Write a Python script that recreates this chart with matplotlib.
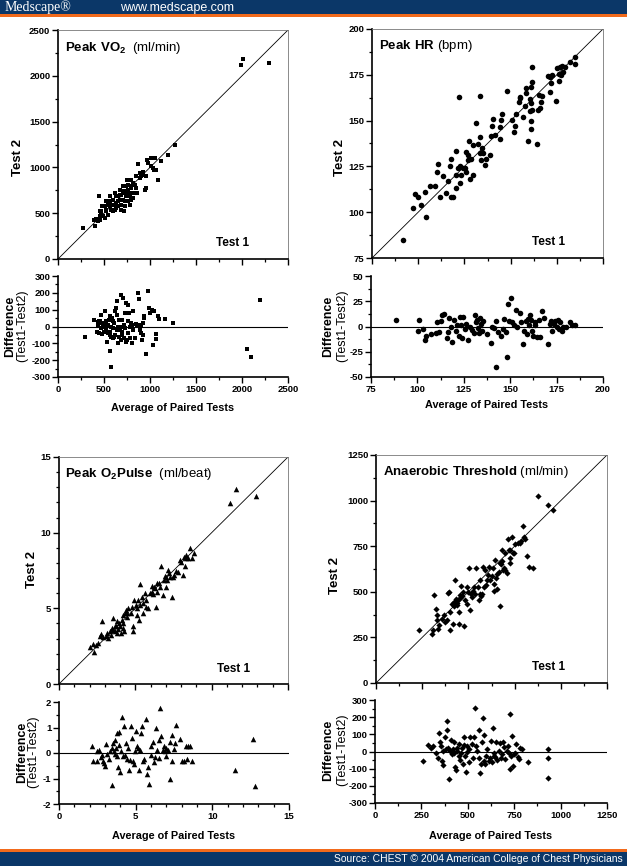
import matplotlib
matplotlib.use("Agg")
import matplotlib.pyplot as plt
from matplotlib.patches import Rectangle
from matplotlib.ticker import MultipleLocator, NullFormatter

plt.rcParams['font.family'] = ['Liberation Sans', 'DejaVu Sans']
plt.rcParams['axes.unicode_minus'] = False
plt.rcParams['mathtext.fontset'] = 'custom'
plt.rcParams['mathtext.rm'] = 'Liberation Sans'
plt.rcParams['mathtext.bf'] = 'Liberation Sans:bold'

W, H = 627, 866
NAVY = '#0b3768'
ORANGE = '#f26a1b'

# ---- Peak VO2 (ml/min) ----
vo2_t1 = [272, 399, 391, 417, 446, 453, 471, 489, 453, 507, 525, 543, 562, 580, 598, 616, 634, 652,
          670, 688, 707, 725, 743, 761, 779, 797, 815, 833, 851, 750, 797, 870, 888, 906, 924, 960,
          960, 967, 1014, 1051, 1033, 1069, 1087, 1123, 1196, 1268, 1993, 2011, 2293,
          561, 616, 652, 688, 724, 742, 796, 760, 778, 706, 670, 634, 597, 543, 507, 453, 435, 471,
          525, 579, 652, 706, 760, 815, 851, 887, 923, 724, 815, 858, 951, 980, 1014, 1040, 634,
          688, 616, 561, 518, 482, 760, 796, 670, 742, 789, 717]
vo2_t2 = [338, 363, 429, 436, 683, 429, 483, 465, 520, 574, 520, 592, 629, 538, 647, 592, 683, 629,
          647, 701, 738, 720, 792, 756, 683, 792, 720, 810, 774, 865, 858, 1036, 938, 901, 919, 901,
          774, 1083, 1101, 1101, 992, 974, 865, 1065, 1138, 1246, 2118, 2180, 2137,
          574, 538, 574, 592, 629, 683, 720, 629, 592, 647, 701, 610, 520, 483, 447, 465, 410, 520,
          538, 592, 683, 792, 810, 828, 901, 883, 955, 574, 665, 720, 756, 1047, 1010, 974, 556,
          538, 720, 683, 629, 574, 720, 774, 756, 738, 647, 520]
vo2_avg = [290, 390, 420, 430, 440, 450, 460, 470, 480, 490, 500, 510, 520, 530, 540, 550, 560, 570,
           575, 580, 590, 600, 610, 620, 630, 640, 650, 660, 670, 680, 690, 700, 710, 720, 730, 740,
           750, 760, 770, 780, 790, 800, 820, 840, 850, 870, 880, 890, 900, 910, 920, 930, 940, 960,
           980, 990, 1000, 1020, 1030, 1040, 1060, 1070, 1090, 1100, 1160, 1250, 2050, 2100, 2200,
           470, 500, 520, 540, 560, 600, 620, 640, 660, 680, 700, 720, 740, 760, 780, 820, 860, 900,
           920, 450, 480, 530, 580, 610, 650, 690, 730, 760, 800, 700, 640, 600, 560]
vo2_diff = [-65, 40, -30, 25, 10, -40, 30, 70, -45, 0, 20, 90, -20, -95, 10, 40, -30, -145,
            -240, -60, 50, -10, -60, 90, 110, 150, -100, 40, -20, 190, 0, -50, 170, -70, 80, 140,
            -80, 130, 80, 0, 20, -100, 90, -70, 15, 200, 165, -20, 10, -80, -50, 60, 50, -165,
            210, 110, 80, 100, -110, 90, -75, -45, 60, 45, 45, 20, -135, -180, 160,
            -10, -30, 30, -40, 60, 30, -50, -20, -60, 0, 40, 10, -90, -40, -70, -20, 10, -40,
            20, 30, 20, 5, 0, 20, 0, -80, -10, 30, 10, -30, 70, -70, -50]

# ---- Peak HR (bpm) ----
hr_t1 = [91.8, 97.2, 98.1, 99.9, 101.7, 103.5, 104.0, 106.2, 108.9, 110.2, 110.7, 112.0, 113.4,
         115.2, 116.1, 117.0, 117.9, 117.9, 118.8, 120.6, 120.6, 120.6, 121.5, 122.1, 122.4, 122.8,
         123.3, 124.2, 125.1, 126.0, 126.0, 126.9, 126.9, 127.5, 127.8, 128.8, 129.7, 129.7, 131.5,
         132.4, 133.3, 133.3, 133.6, 134.2, 134.7, 135.1, 136.0, 136.5, 138.7, 139.6, 140.1, 140.5,
         141.5, 144.1, 144.4, 145.0, 145.5, 148.0, 150.9, 151.6, 152.2, 152.7, 154.5, 154.9, 155.2,
         156.7, 157.6, 158.2, 158.5, 159.4, 160.3, 160.3, 161.2, 161.2, 161.8, 161.8, 161.8, 161.2,
         161.2, 164.3, 164.8, 165.4, 166.1, 166.6, 167.0, 170.2, 171.1, 171.5, 172.0, 172.6, 174.4,
         175.1, 176.2, 176.2, 176.9, 177.5, 178.0, 178.4, 179.3, 182.0, 184.7, 184.7]
hr_t2 = [84.6, 102.3, 110.1, 108.2, 104.1, 110.8, 97.3, 114.4, 114.4, 121.7, 126.4, 108.2, 119.5,
         110.4, 116.8, 125.3, 129.0, 108.1, 108.1, 120.4, 113.2, 133.5, 124.1, 162.8, 125.0, 115.9,
         120.4, 124.1, 124.1, 122.2, 133.1, 131.3, 128.6, 139.1, 118.2, 129.0, 120.4, 136.8, 148.6,
         137.3, 141.3, 132.2, 163.5, 128.6, 135.0, 132.2, 125.9, 129.0, 131.3, 141.7, 147.1, 150.8,
         142.1, 146.4, 139.9, 150.4, 153.7, 166.2, 150.4, 143.7, 147.1, 153.5, 160.4, 162.2, 163.1,
         152.2, 158.0, 165.3, 168.0, 138.6, 161.8, 155.0, 159.5, 168.6, 179.1, 171.3, 155.9, 150.0,
         145.3, 137.3, 155.9, 164.0, 156.8, 160.4, 163.5, 174.4, 174.0, 165.8, 170.7, 174.9, 160.8,
         178.6, 175.5, 171.8, 179.5, 174.9, 180.0, 176.7, 179.5, 182.2, 184.9, 180.9]
hr_avg = [88.4, 100.1, 101.0, 102.8, 104.0, 104.5, 107.2, 109.9, 110.5, 111.7, 112.9, 113.5, 114.4,
          115.8, 116.5, 117.1, 118.0, 118.9, 119.8, 120.7, 121.6, 122.5, 123.0, 123.4, 124.2, 124.8,
          125.5, 126.0, 127.3, 128.4, 129.6, 130.5, 130.9, 131.4, 132.0, 132.7, 133.2, 133.7, 134.1,
          135.0, 135.5, 137.3, 139.5, 140.4, 141.3, 142.2, 142.6, 143.4, 144.8, 146.3, 146.6, 147.5,
          148.4, 148.8, 149.3, 150.2, 151.1, 152.0, 152.9, 153.8, 155.2, 155.6, 157.0, 157.4, 158.3,
          158.8, 159.5, 160.1, 160.6, 161.3, 161.9, 162.4, 163.1, 163.6, 164.2, 165.4, 166.3, 167.2,
          168.1, 170.3, 171.3, 172.1, 172.6, 173.5, 174.4, 175.0, 175.6, 176.2, 177.1, 178.0, 178.5,
          179.8, 182.4, 183.3, 185.1]
hr_diff = [6.9, -4.6, 6.9, -2.3, -12.9, -9.6, -7.3, -6.6, 4.3, -5.0, 5.9, 11.6, 11.9,
           -11.2, -5.6, 8.3, -0.7, -14.9, 6.6, -4.0, 1.7, -9.6, 9.9, 1.0, -11.6, 9.2,
           -2.3, 2.6, -12.9, -0.7, -3.3, -6.6, 10.9, 4.3, 6.9, -1.7, -6.6, 8.6, 2.6,
           -4.6, 5.3, -7.9, -16.5, -0.7, -1.3, 5.9, -40.3, -5.6, -9.9, -2.3, 7.6, -5.6,
           -30.4, 21.8, 5.9, 28.1, 4.3, 1.0, 16.5, -0.7, 13.2, 4.3, -17.8, -4.6, 5.9,
           -7.3, 7.6, 1.0, 10.9, 6.6, -4.0, -9.9, 4.3, 1.0, -10.6, 6.6, -10.6, 14.9,
           8.6, -17.2, 2.6, 5.0, -4.0, 2.0, 5.3, -0.7, 6.6, -2.3, 4.3, -4.0, 0.0,
           -0.7, 4.3, 1.0, 1.7]

# ---- Peak O2 pulse (ml/beat) ----
o2_t1 = [2.03, 2.20, 2.31, 2.42, 2.57, 2.68, 2.73, 2.79, 2.90, 3.07, 3.16, 3.23, 3.34, 3.44, 3.55,
         3.55, 3.66, 3.73, 3.77, 3.82, 3.88, 3.99, 4.03, 4.10, 4.16, 4.21, 4.25, 4.32, 4.38, 4.43,
         4.53, 4.69, 4.82, 4.86, 4.91, 5.04, 5.08, 5.12, 5.19, 5.25, 5.30, 5.41, 5.47, 5.52, 5.62,
         5.73, 5.84, 5.99, 6.06, 6.12, 6.17, 6.28, 6.39, 6.43, 6.34, 6.61, 6.71, 6.82, 6.87, 6.93,
         7.00, 7.04, 7.15, 7.22, 7.30, 7.43, 7.52, 7.65, 7.80, 8.02, 8.13, 8.18, 8.24, 8.31, 8.35,
         8.46, 8.57, 8.68, 8.83, 11.18, 11.62, 12.93,
         3.66, 3.95, 4.47, 4.75, 5.30, 5.73, 6.21, 6.56, 7.09, 7.48, 7.91, 4.16, 3.38]
o2_t2 = [2.44, 2.66, 2.09, 2.59, 2.70, 3.14, 3.32, 4.13, 3.10, 3.14, 3.36, 3.03, 3.47, 3.69, 4.35,
         3.58, 3.47, 3.80, 3.40, 4.13, 3.62, 3.80, 3.40, 4.24, 4.02, 4.57, 3.47, 4.68, 4.90, 4.72,
         5.01, 4.72, 3.80, 3.47, 5.56, 5.23, 5.01, 4.57, 5.56, 4.24, 6.61, 5.78, 5.34, 4.68, 6.00,
         5.12, 5.01, 6.00, 6.48, 6.11, 5.95, 6.33, 6.65, 6.11, 5.12, 6.44, 7.80, 5.89, 6.87, 7.14,
         6.44, 7.05, 7.53, 7.31, 7.09, 5.78, 7.20, 7.47, 7.42, 8.08, 7.20, 8.41, 7.80, 8.52, 8.30,
         8.30, 8.96, 8.30, 8.63, 11.93, 12.87, 12.43,
         3.80, 4.06, 4.46, 5.12, 5.23, 5.56, 6.44, 6.65, 6.87, 7.09, 8.19, 3.69, 3.25]
o2_avg = [2.17, 2.24, 2.45, 2.50, 2.63, 2.71, 2.78, 2.89, 2.95, 3.00, 3.06, 3.15, 3.23, 3.32, 3.43,
          3.47, 3.54, 3.58, 3.62, 3.67, 3.71, 3.76, 3.80, 3.84, 3.89, 3.93, 3.97, 4.02, 4.08, 4.15,
          4.23, 4.30, 4.36, 4.45, 4.51, 4.58, 4.62, 4.71, 4.75, 4.84, 4.88, 4.97, 5.01, 5.10, 5.17,
          5.23, 5.30, 5.36, 5.40, 5.45, 5.53, 5.67, 5.71, 5.80, 5.88, 5.97, 6.03, 6.14, 6.19, 6.27,
          6.32, 6.40, 6.49, 6.53, 6.58, 6.66, 6.75, 6.84, 6.90, 6.95, 7.01, 7.12, 7.23, 7.27, 7.34,
          7.40, 7.49, 7.55, 7.62, 7.88, 7.99, 8.14, 8.27, 8.36, 8.42, 8.57, 8.70, 11.46, 12.76, 12.65]
o2_diff = [0.29, -0.33, -0.33, 0.07, 0.13, -0.16, -0.07, -0.30, -0.39, -0.50, 0.35, -0.03, -0.22,
           0.07, 0.20, -1.24, 0.39, 0.07, -0.03, 0.52, 0.20, 0.78, -0.10, -0.55, 0.33, 0.81, -0.76,
           0.07, 1.41, -0.13, 1.07, -0.07, 0.39, -0.22, 0.20, -0.68, -0.26, 1.07, 0.59, -0.33, -0.42,
           0.09, 0.85, 0.26, 0.20, -0.68, 0.13, 0.78, 1.04, -0.33, -0.23, 1.33, -0.81, -0.55, -1.20,
           -0.07, 0.29, 0.42, -0.35, -0.16, 1.00, 0.13, -0.20, 0.52, 1.76, 0.68, 0.13, 0.29, 0.07,
           -0.13, 0.20, 0.10, -1.00, 0.42, -0.30, 0.72, 0.16, 0.39, 1.08, 0.55, -0.33, -0.33, 0.26,
           -0.22, 0.29, 0.26, -0.33, -0.68, -1.28, 0.55]

# ---- Anaerobic threshold (ml/min) ----
at_t1 = [234, 303, 309, 316, 326, 330, 330, 334, 339, 357, 366, 375, 384, 388, 393, 399, 402, 411,
         417, 420, 424, 429, 435, 438, 442, 447, 449, 453, 456, 460, 465, 471, 478, 483, 492, 496,
         501, 511, 514, 520, 525, 528, 538, 543, 550, 556, 565, 568, 574, 579, 583, 592, 597, 601,
         604, 619, 628, 633, 637, 640, 646, 651, 655, 664, 669, 673, 677, 682, 687, 691, 696, 700,
         709, 713, 718, 723, 727, 736, 741, 749, 754, 767, 778, 785, 796, 799, 808, 816, 826, 850,
         875, 929, 958, 438, 492, 565, 610, 655, 682, 727]
at_t2 = [289, 267, 293, 481, 408, 371, 344, 298, 320, 353, 371, 335, 348, 494, 500, 390, 293, 435,
         326, 421, 445, 564, 463, 439, 457, 390, 322, 481, 468, 531, 476, 500, 311, 454, 527, 500,
         633, 399, 490, 472, 505, 527, 487, 633, 527, 454, 490, 476, 490, 637, 527, 618, 536, 567,
         591, 564, 586, 628, 505, 545, 673, 578, 518, 609, 659, 421, 651, 670, 618, 628, 710, 622,
         604, 787, 728, 683, 659, 801, 714, 710, 761, 769, 769, 780, 860, 801, 787, 695, 637, 633,
         1025, 975, 948, 426, 435, 564, 637, 600, 728, 728]
at_avg = [261, 288, 300, 315, 329, 342, 347, 351, 354, 360, 365, 369, 378, 383, 387, 390, 396, 401,
          405, 408, 414, 419, 423, 426, 432, 437, 441, 444, 450, 455, 459, 462, 468, 473, 477, 480,
          486, 491, 495, 498, 504, 509, 513, 522, 527, 531, 540, 545, 549, 558, 563, 567, 570, 576,
          581, 585, 588, 594, 599, 606, 612, 621, 624, 630, 635, 639, 642, 648, 653, 657, 666, 671,
          678, 684, 689, 693, 702, 711, 714, 720, 725, 729, 732, 738, 743, 750, 756, 761, 768, 774,
          783, 792, 822, 930, 932, 930]
at_diff = [-55, 39, 23, 33, -6, -35, 105, 53, 33, -55, 4, -78, 86, 14, 125, 175, 19, -162,
           4, 66, -16, 14, -6, 53, -90, -109, 4, 23, -25, 43, -51, -6, 23, -70, 39, 86,
           -25, -117, 33, 0, 14, -64, 82, 43, -35, 86, 253, 33, 4, -35, 125, -123, -74, 53,
           195, -55, 97, -74, -25, 14, -58, -35, 62, -64, 136, -25, -6, -31, 53, -51, 4, 47,
           -39, -16, 53, 27, -45, 4, 33, -6, 218, -103, -25, 92, -84, -16, -6, 43, -31, -45,
           23, 14, -64, 14, -39, -152]

panels = [
    # title, t1, t2, avg, diff, marker, lim, major, minor, dlim, dmajor, dminor, boxes
    (r'$\mathbf{Peak\ VO_2}$  (ml/min)', vo2_t1, vo2_t2, vo2_avg, vo2_diff, 's',
     (0, 2500), 500, 250, (-300, 300), 100, 50,
     (58, 30, 288, 259), (58, 276, 288, 377), (18, 157), (10, 22, 326), (173, 408), (65, 48), (233, 243)),
    (r'$\mathbf{Peak\ HR}$ (bpm)', hr_t1, hr_t2, hr_avg, hr_diff, 'o',
     (75, 200), 25, 12.5, (-50, 50), 25, 12.5,
     (372, 29, 603, 258), (371, 276, 603, 377), (340, 157), (328, 342, 326), (487, 405), (379, 46), (549, 242)),
    (r'$\mathbf{Peak\ O_2Pulse}$  (ml/beat)', o2_t1, o2_t2, o2_avg, o2_diff, '^',
     (0, 15), 5, 1, (-2, 2), 1, 0.5,
     (59, 457, 288, 684), (59, 702, 289, 804), (32, 570), (22, 33, 752), (174, 836), (65, 474), (234, 669)),
    (r'$\mathbf{Anaerobic\ Threshold}$ (ml/min)', at_t1, at_t2, at_avg, at_diff, 'D',
     (0, 1250), 250, 125, (-300, 300), 100, 50,
     (376, 455, 607, 683), (375, 700, 607, 803), (335, 575), (328, 342, 750), (491, 836), (383, 472), (549, 667)),
]

msize = {'s': 10, 'o': 16, '^': 16, 'D': 10}


def px(x, y):
    return x / W, 1 - y / H


def add_box(fig, l, t, r, b):
    return fig.add_axes([l / W, 1 - b / H, (r - l) / W, (b - t) / H])


def style_ticks(ax, xmaj, xmin, ymaj, ymin):
    ax.xaxis.set_major_locator(MultipleLocator(xmaj))
    ax.xaxis.set_minor_locator(MultipleLocator(xmin))
    ax.yaxis.set_major_locator(MultipleLocator(ymaj))
    ax.yaxis.set_minor_locator(MultipleLocator(ymin))
    ax.tick_params(which='major', direction='out', length=4, width=1.0, labelsize=6.8, pad=1.5)
    ax.tick_params(which='minor', direction='out', length=2.5, width=0.9)
    for lab in ax.get_xticklabels() + ax.get_yticklabels():
        lab.set_fontweight('bold')
    for side in ('left', 'bottom'):
        ax.spines[side].set_linewidth(1.2)


fig = plt.figure(figsize=(W / 100, H / 100), dpi=100)

for (title, t1, t2, avg, diff, mk, lim, major, minor, dlim, dmajor, dminor,
     upper, lower, ylab, dlab, xlab, tpos, t1pos) in panels:
    ax = add_box(fig, *upper)
    ax.plot(lim, lim, color='black', lw=0.6, zorder=1)
    ax.scatter(t1, t2, marker=mk, s=msize[mk], color='black', linewidths=0, zorder=2, clip_on=False)
    ax.set_xlim(lim)
    ax.set_ylim(lim)
    style_ticks(ax, major, minor, major, minor)
    ax.xaxis.set_major_formatter(NullFormatter())
    for lab in ax.get_yticklabels():
        lab.set_fontweight('bold')
    for side in ('top', 'right'):
        ax.spines[side].set_linewidth(0.6)
        ax.spines[side].set_color('#777777')

    bx = add_box(fig, *lower)
    bx.axhline(0, color='black', lw=0.8, zorder=1)
    bx.scatter(avg, diff, marker=mk, s=msize[mk], color='black', linewidths=0, zorder=2, clip_on=False)
    bx.set_xlim(lim)
    bx.set_ylim(dlim)
    style_ticks(bx, major, minor, dmajor, dminor)
    bx.spines['top'].set_visible(False)
    bx.spines['right'].set_visible(False)

    fig.text(*px(*tpos), title, fontsize=9.5, ha='left', va='center')
    fig.text(*px(*t1pos), 'Test 1', fontsize=8.5, fontweight='bold', ha='center', va='center')
    fig.text(*px(*ylab), 'Test 2', fontsize=9.5, fontweight='bold', rotation=90, ha='center', va='center')
    fig.text(*px(dlab[0], dlab[2]), 'Difference', fontsize=9, fontweight='bold',
             rotation=90, ha='center', va='center')
    fig.text(*px(dlab[1], dlab[2]), '(Test1-Test2)', fontsize=9, rotation=90, ha='center', va='center')
    fig.text(*px(*xlab), 'Average of Paired Tests', fontsize=7.8, fontweight='bold',
             ha='center', va='center')

# header and footer bands
fig.add_artist(Rectangle(px(0, 14), 1, 14 / H, transform=fig.transFigure, color=NAVY, lw=0))
fig.add_artist(Rectangle(px(0, 17), 1, 3 / H, transform=fig.transFigure, color=ORANGE, lw=0))
fig.add_artist(Rectangle(px(0, 852), 1, 3 / H, transform=fig.transFigure, color=ORANGE, lw=0))
fig.add_artist(Rectangle(px(0, 866), 1, 14 / H, transform=fig.transFigure, color=NAVY, lw=0))
fig.text(*px(5, 7.5), 'Medscape\u00ae', family=['Liberation Serif', 'DejaVu Serif'],
         fontsize=10, color='white', va='center', ha='left')
fig.text(*px(120, 7.5), 'www.medscape.com', fontsize=9, color='white', va='center', ha='left')
fig.text(*px(623, 859), 'Source: CHEST \u00a9 2004 American College of Chest Physicians',
         fontsize=7.5, color='white', va='center', ha='right')

fig.savefig('out.png', dpi=100)
